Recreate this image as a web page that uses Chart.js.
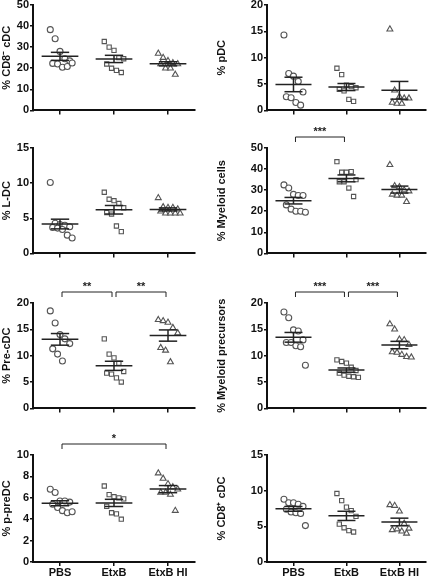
<!DOCTYPE html>
<html>
<head>
<meta charset="utf-8">
<script src="https://cdn.jsdelivr.net/npm/chart.js@4.4.0/dist/chart.umd.min.js"></script>
<style>
  body { margin: 0; background: #fff; }
  #wrap { position: relative; width: 431px; height: 578px; overflow: hidden; }
  .panel { position: absolute; }
</style>
</head>
<body>
<div id="wrap"></div>
<script>
const groups = ["PBS", "EtxB", "EtxB HI"];

// panel titles (y axes)
const titles = ["% CD8\u207B cDC", "% pDC", "% L-DC", "% Myeloid cells",
                "% Pre-cDC", "% Myeloid precursors", "% p-preDC", "% CD8\u207A cDC"];
const yMax = [50, 20, 15, 50, 20, 20, 10, 15];
const yStep = [10, 5, 5, 10, 5, 5, 2, 5];

// values per panel: [PBS, EtxB, EtxB HI]
const cd8negCdc = [[38.3, 34, 28, 24.5, 23.5, 22.3, 22, 20.5, 20.8, 22.5],
                   [32.7, 30, 28.5, 25, 24.5, 22, 20, 19, 18],
                   [27, 25, 23.5, 22.5, 22, 22, 20, 20, 17]];
const pdc = [[14.3, 7, 6.5, 5.5, 3.5, 2.6, 2.4, 1.5, 1],
             [8, 6.8, 4.8, 4.5, 4.3, 4, 3.7, 2.1, 1.7],
             [15.4, 3.8, 2.6, 2.3, 2.3, 1.5, 1.3, 1.3]];
const ldc = [[10.1, 4.3, 4.1, 4.0, 3.8, 3.7, 3.6, 3.4, 2.6, 2.2],
             [8.7, 7.7, 7.5, 7.1, 6.5, 5.8, 5.6, 3.9, 3.1],
             [7.9, 6.6, 6.5, 6.5, 6.3, 6.0, 5.7, 5.7, 5.7, 5.7]];
const myeloid = [[32.5, 31, 28, 27.5, 27.5, 23, 21, 20, 20, 19.5],
                 [43.5, 38.5, 38.5, 38.8, 35, 34, 34, 31, 27],
                 [42, 32, 31.5, 30, 29.5, 28, 27.5, 27.5, 24.5]];
const preCdc = [[18.5, 16.2, 14, 13.2, 12.3, 11.3, 10.3, 9],
                [13.2, 10.3, 9.6, 8.6, 7, 6.7, 6.5, 5.8, 5],
                [16.8, 16.6, 16.3, 15.3, 14.3, 11.5, 11, 8.8]];
const myeloidPrec = [[18.3, 17.2, 14.9, 14.7, 13, 12.5, 12.5, 11.9, 11.7, 8.2],
                     [9.2, 8.9, 8.6, 7.8, 7.2, 6.7, 6.3, 6.1, 6, 5.9],
                     [16, 15, 13.1, 13, 12.1, 10.7, 10.6, 10.2, 9.8, 9.7]];
const pPreDc = [[6.8, 6.5, 5.7, 5.7, 5.6, 5.4, 5.1, 4.8, 4.6, 4.7],
                [7.1, 6.3, 6.1, 6, 5.9, 5.2, 4.6, 4.5, 4],
                [8.3, 7.8, 7.3, 7, 6.8, 6.5, 6.5, 6.3, 4.8]];
const cd8posCdc = [[8.8, 8.3, 8.3, 8.1, 7.8, 7.4, 7, 6.9, 6.8, 5.1],
                   [9.6, 8.6, 7.7, 7.2, 6.4, 5.3, 4.8, 4.4, 4.2],
                   [8, 7.9, 7.1, 5.4, 4.7, 4.5, 4.6, 4.3, 4.0]];
const panelData = [cd8negCdc, pdc, ldc, myeloid, preCdc, myeloidPrec, pPreDc, cd8posCdc];

// significance brackets: [panel, fromGroup, toGroup, label]
const brackets = [[3, 0, 1, "***"], [4, 0, 1, "**"], [4, 1, 2, "**"],
                  [5, 0, 1, "***"], [5, 1, 2, "***"], [6, 0, 2, "*"]];

const shapes = ["circle", "rect", "triangle"];
const ink = "#333";
const FONT = "'Liberation Sans', Arial, sans-serif";

const rowTop = [5, 148, 303, 455];
const plotH = 107;
const padTop = 24;

const meanSem = {
  id: "meanSem",
  afterDatasetsDraw(chart, args, opts) {
    const { ctx, scales: { x, y } } = chart;
    ctx.save();
    ctx.strokeStyle = "#222";
    ctx.lineWidth = 1.5;
    opts.values.forEach((vals, g) => {
      const n = vals.length;
      const m = vals.reduce((a, b) => a + b, 0) / n;
      const sd = Math.sqrt(vals.reduce((a, b) => a + (b - m) ** 2, 0) / (n - 1));
      const sem = sd / Math.sqrt(n);
      const cx = g + 1;
      const line = (x1, x2, v) => {
        ctx.beginPath();
        ctx.moveTo(x.getPixelForValue(x1), y.getPixelForValue(v));
        ctx.lineTo(x.getPixelForValue(x2), y.getPixelForValue(v));
        ctx.stroke();
      };
      line(cx - 0.34, cx + 0.34, m);
      line(cx - 0.17, cx + 0.17, m + sem);
      line(cx - 0.17, cx + 0.17, m - sem);
      ctx.beginPath();
      ctx.moveTo(x.getPixelForValue(cx), y.getPixelForValue(m - sem));
      ctx.lineTo(x.getPixelForValue(cx), y.getPixelForValue(m + sem));
      ctx.stroke();
    });
    // brackets
    const top = chart.chartArea.top;
    ctx.lineWidth = 1;
    ctx.fillStyle = "#222";
    ctx.font = "bold 11px " + FONT;
    ctx.textAlign = "center";
    opts.brackets.forEach(([a, b, lab]) => {
      const x1 = x.getPixelForValue(a + 1) + 2, x2 = x.getPixelForValue(b + 1) - 2;
      const yy = top - 11;
      ctx.beginPath();
      ctx.moveTo(x1, yy + 5); ctx.lineTo(x1, yy); ctx.lineTo(x2, yy); ctx.lineTo(x2, yy + 5);
      ctx.stroke();
      ctx.fillText(lab, (x1 + x2) / 2, yy - 2);
    });
    ctx.restore();
  }
};

panelData.forEach((vals, p) => {
  const col = p % 2, row = Math.floor(p / 2);
  const bottom = row === 3;
  const xH = bottom ? 16 : 6;
  const yW = col === 0 ? 33 : 52;
  const left = col === 0 ? 0 : 215;
  const width = col === 0 ? 215 : 216;
  const rightPad = col === 0 ? 20 : 0;
  const height = padTop + plotH + xH;

  const div = document.createElement("div");
  div.className = "panel";
  div.style.left = left + "px";
  div.style.top = (rowTop[row] - padTop) + "px";
  div.style.width = width + "px";
  div.style.height = height + "px";
  const cv = document.createElement("canvas");
  div.appendChild(cv);
  document.getElementById("wrap").appendChild(div);

  const datasets = vals.map((v, g) => ({
    data: v.map((val, i) => ({ x: g + 1 + ((i % 5) - 2) * 0.09 + (i >= 5 ? 0.045 : 0), y: val })),
    pointStyle: shapes[g],
    pointRadius: g === 2 ? 3.4 : 3,
    backgroundColor: "#fff",
    borderColor: "#555",
    borderWidth: 1.1
  }));

  new Chart(cv, {
    type: "scatter",
    data: { datasets },
    options: {
      responsive: true,
      maintainAspectRatio: false,
      animation: false,
      layout: { padding: { top: padTop, right: rightPad, left: 0, bottom: 0 } },
      plugins: {
        legend: { display: false },
        tooltip: { enabled: false },
        meanSem: { values: vals, brackets: brackets.filter(b => b[0] === p).map(b => b.slice(1)) }
      },
      scales: {
        x: {
          type: "linear", min: 0.5, max: 3.5,
          afterBuildTicks: s => { s.ticks = [1, 2, 3].map(v => ({ value: v })); },
          afterFit: s => { s.height = xH; },
          border: { color: "#111", width: 2 },
          grid: { drawOnChartArea: false, drawTicks: true, tickLength: 4, color: "#111", lineWidth: 1.5 },
          ticks: {
            display: bottom, padding: 0, color: "#111",
            font: { family: FONT, size: 11, weight: "bold" },
            callback: v => groups[v - 1]
          }
        },
        y: {
          min: 0, max: yMax[p],
          afterFit: s => { s.width = yW; },
          border: { color: "#111", width: 2 },
          grid: { drawOnChartArea: false, drawTicks: true, tickLength: 3, color: "#111", lineWidth: 1.5 },
          ticks: { stepSize: yStep[p], padding: 1, color: "#111", font: { family: FONT, size: 11, weight: "bold" } },
          title: { display: true, text: titles[p], color: "#111", padding: 0,
                   font: { family: FONT, size: 11, weight: "bold" } }
        }
      }
    },
    plugins: [meanSem]
  });
});
</script>
</body>
</html>
